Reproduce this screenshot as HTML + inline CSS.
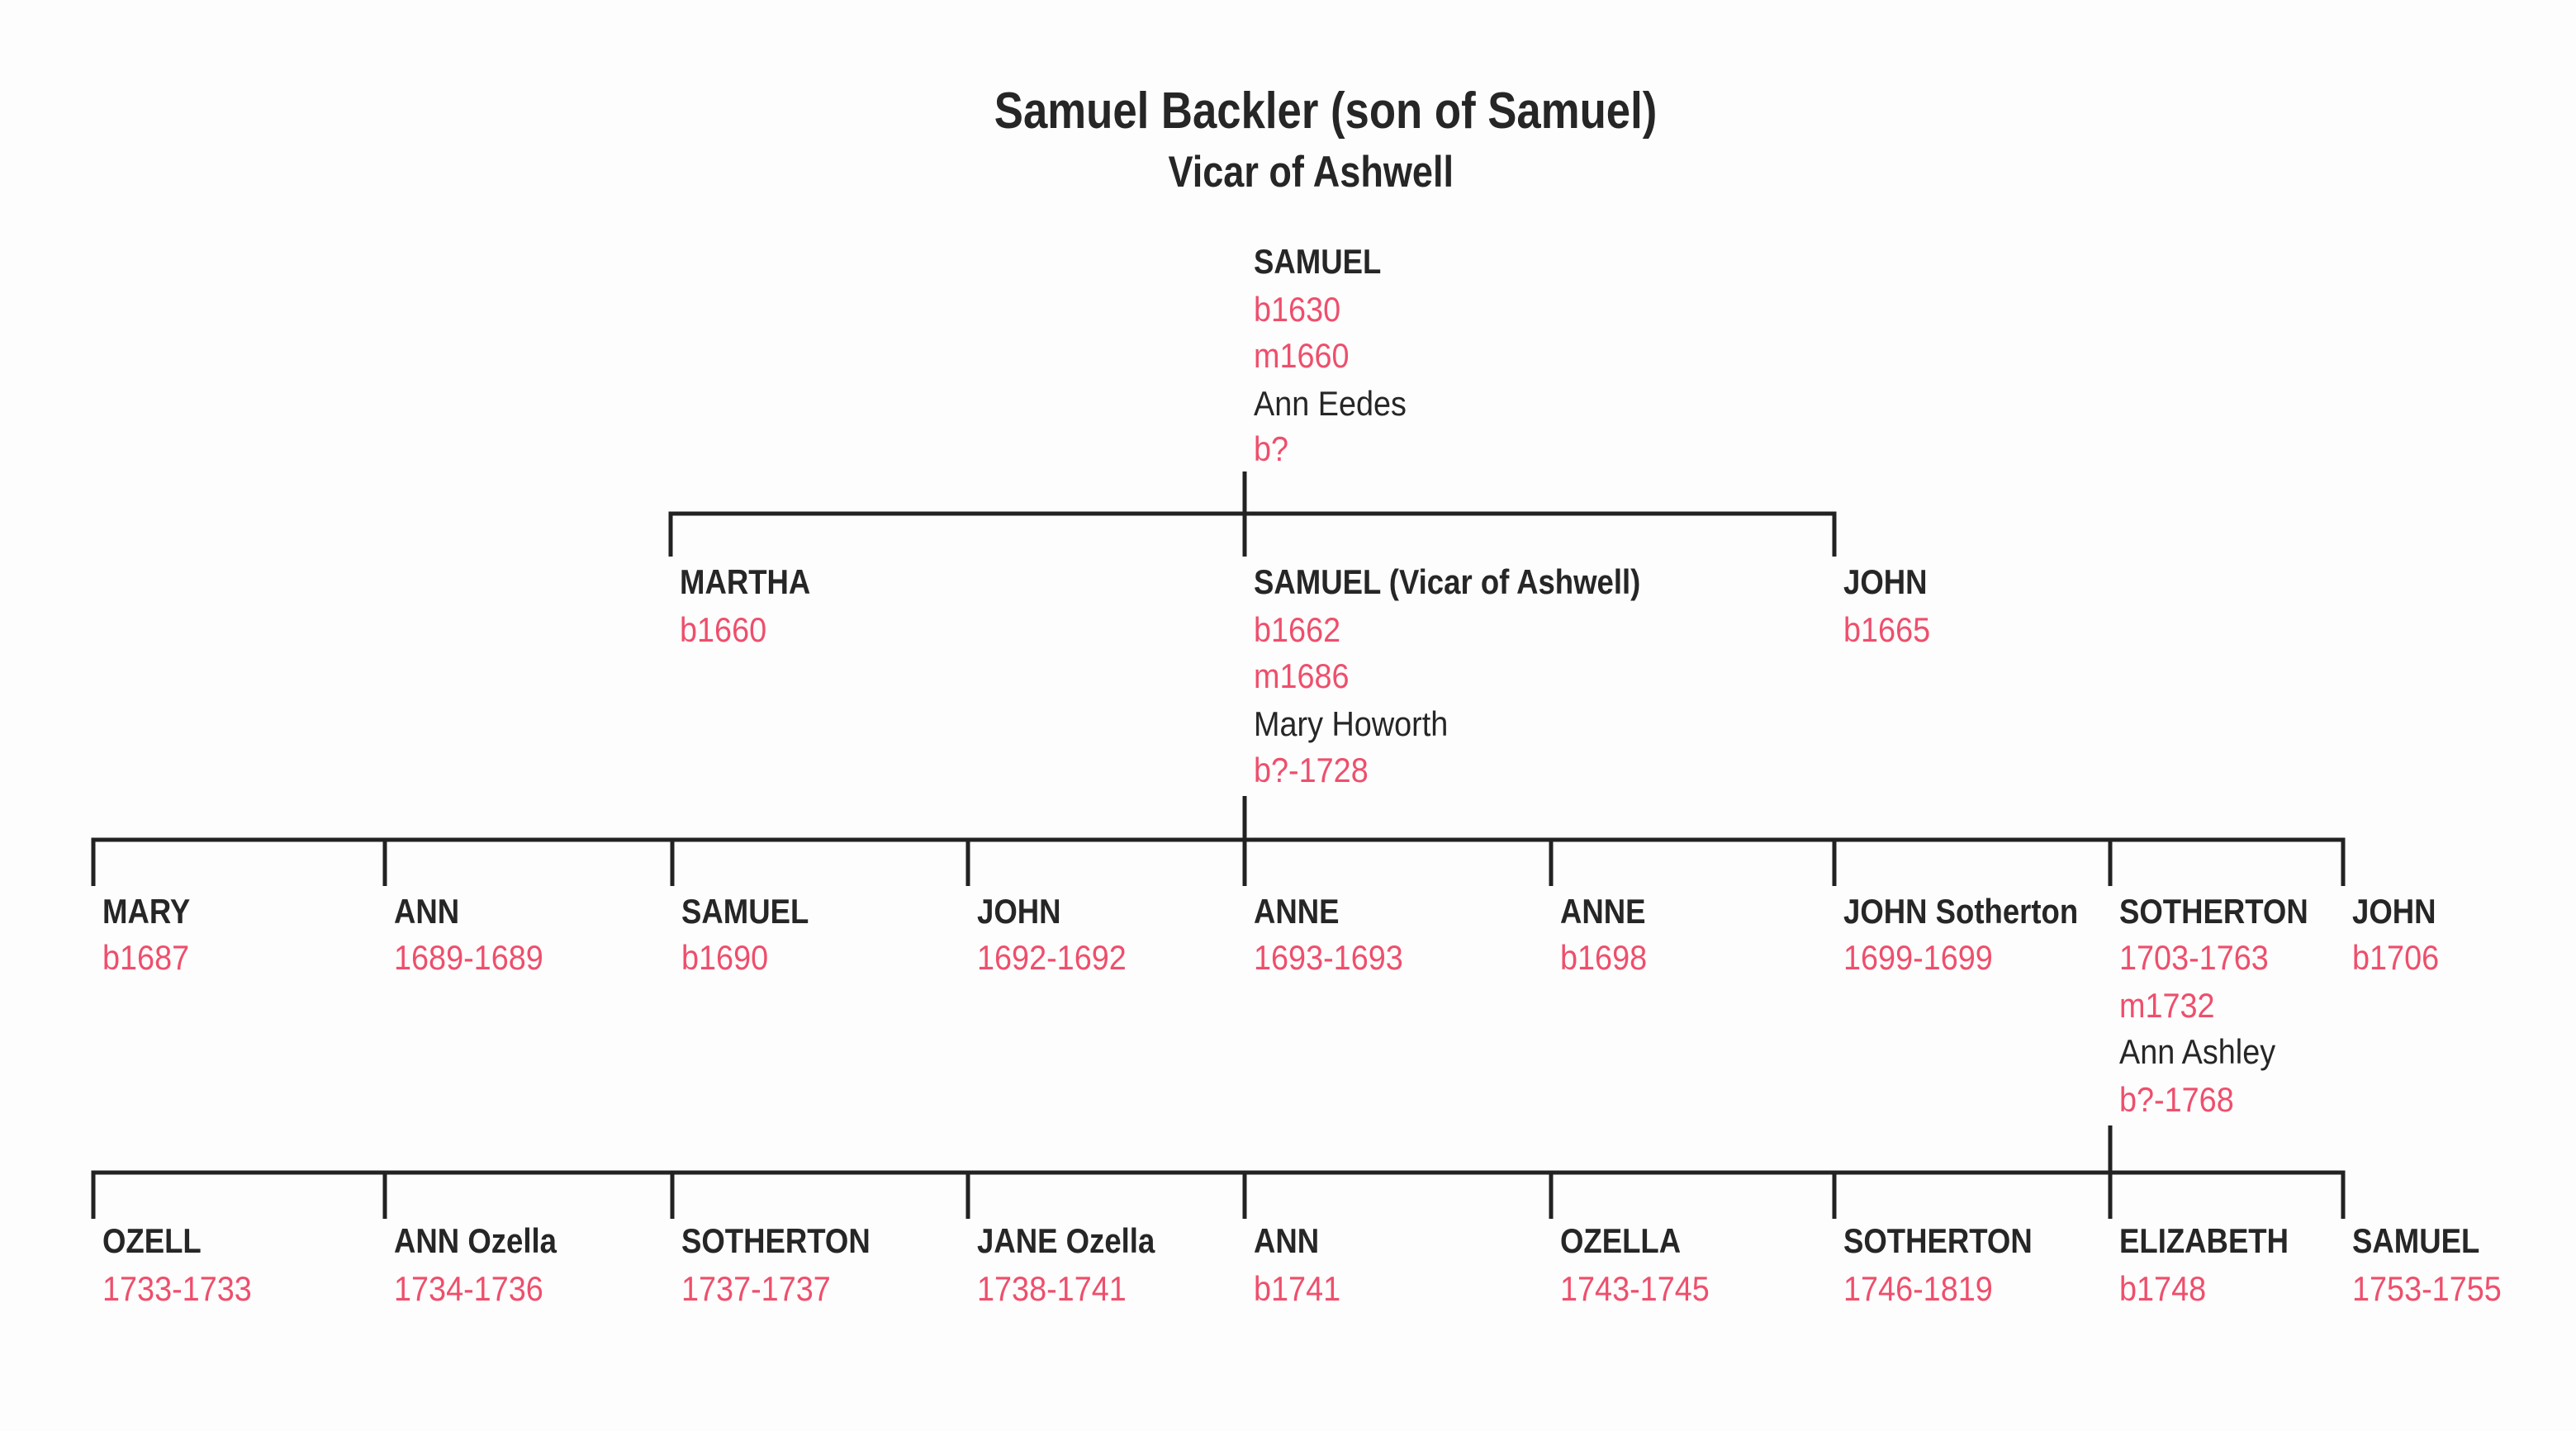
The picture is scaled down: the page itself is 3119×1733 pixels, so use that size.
<!DOCTYPE html>
<html><head><meta charset="utf-8"><style>
html,body{margin:0;padding:0;background:#fdfdfd;}
body{width:3119px;height:1733px;position:relative;overflow:hidden;font-family:"Liberation Sans",sans-serif;}
.t{position:absolute;font-size:42px;line-height:42px;white-space:nowrap;transform:scaleX(0.90);transform-origin:0 0;color:#262626;}
.b{font-weight:bold;transform:scaleX(0.87);}
.p{color:#ee4f6c;}
.h{position:absolute;left:0;width:3119px;text-align:center;font-weight:bold;color:#262626;white-space:nowrap;}
.h span{display:inline-block;transform:scaleX(0.85);}
</style></head><body>
<div class="h" style="top:104px;font-size:62px;line-height:62px;"><span style="margin-left:92px">Samuel Backler (son of Samuel)</span></div>
<div class="h" style="top:182px;font-size:53px;line-height:53px;"><span style="margin-left:56px">Vicar of Ashwell</span></div>

<svg style="position:absolute;left:0;top:0" width="3119" height="1733">
<g stroke="#222" stroke-width="5" fill="none">
<line x1="1507" y1="571" x2="1507" y2="674"/>
<polyline points="812,674 812,622 2221,622 2221,674"/>
<line x1="1507" y1="964" x2="1507" y2="1073"/>
<polyline points="113,1073 113,1017 2837,1017 2837,1073"/>
<line x1="466" y1="1017" x2="466" y2="1073"/>
<line x1="814" y1="1017" x2="814" y2="1073"/>
<line x1="1172" y1="1017" x2="1172" y2="1073"/>
<line x1="1878" y1="1017" x2="1878" y2="1073"/>
<line x1="2221" y1="1017" x2="2221" y2="1073"/>
<line x1="2555" y1="1017" x2="2555" y2="1073"/>
<line x1="2555" y1="1363" x2="2555" y2="1476"/>
<polyline points="113,1476 113,1420 2837,1420 2837,1476"/>
<line x1="466" y1="1420" x2="466" y2="1476"/>
<line x1="814" y1="1420" x2="814" y2="1476"/>
<line x1="1172" y1="1420" x2="1172" y2="1476"/>
<line x1="1507" y1="1420" x2="1507" y2="1476"/>
<line x1="1878" y1="1420" x2="1878" y2="1476"/>
<line x1="2221" y1="1420" x2="2221" y2="1476"/>
</g></svg>

<!-- Row 1 -->
<div class="t b" style="left:1518px;top:296px">SAMUEL</div>
<div class="t p" style="left:1518px;top:354px">b1630</div>
<div class="t p" style="left:1518px;top:410px">m1660</div>
<div class="t" style="left:1518px;top:468px">Ann Eedes</div>
<div class="t p" style="left:1518px;top:523px">b?</div>

<!-- Row 2 -->
<div class="t b" style="left:823px;top:684px">MARTHA</div>
<div class="t p" style="left:823px;top:742px">b1660</div>
<div class="t b" style="left:1518px;top:684px">SAMUEL (Vicar of Ashwell)</div>
<div class="t p" style="left:1518px;top:742px">b1662</div>
<div class="t p" style="left:1518px;top:798px">m1686</div>
<div class="t" style="left:1518px;top:856px">Mary Howorth</div>
<div class="t p" style="left:1518px;top:912px">b?-1728</div>
<div class="t b" style="left:2232px;top:684px">JOHN</div>
<div class="t p" style="left:2232px;top:742px">b1665</div>

<!-- Row 3 -->
<div class="t b" style="left:124px;top:1083px">MARY</div>
<div class="t p" style="left:124px;top:1139px">b1687</div>
<div class="t b" style="left:477px;top:1083px">ANN</div>
<div class="t p" style="left:477px;top:1139px">1689-1689</div>
<div class="t b" style="left:825px;top:1083px">SAMUEL</div>
<div class="t p" style="left:825px;top:1139px">b1690</div>
<div class="t b" style="left:1183px;top:1083px">JOHN</div>
<div class="t p" style="left:1183px;top:1139px">1692-1692</div>
<div class="t b" style="left:1518px;top:1083px">ANNE</div>
<div class="t p" style="left:1518px;top:1139px">1693-1693</div>
<div class="t b" style="left:1889px;top:1083px">ANNE</div>
<div class="t p" style="left:1889px;top:1139px">b1698</div>
<div class="t b" style="left:2232px;top:1083px">JOHN Sotherton</div>
<div class="t p" style="left:2232px;top:1139px">1699-1699</div>
<div class="t b" style="left:2566px;top:1083px">SOTHERTON</div>
<div class="t p" style="left:2566px;top:1139px">1703-1763</div>
<div class="t p" style="left:2566px;top:1197px">m1732</div>
<div class="t" style="left:2566px;top:1253px">Ann Ashley</div>
<div class="t p" style="left:2566px;top:1311px">b?-1768</div>
<div class="t b" style="left:2848px;top:1083px">JOHN</div>
<div class="t p" style="left:2848px;top:1139px">b1706</div>

<!-- Row 4 -->
<div class="t b" style="left:124px;top:1482px">OZELL</div>
<div class="t p" style="left:124px;top:1540px">1733-1733</div>
<div class="t b" style="left:477px;top:1482px">ANN Ozella</div>
<div class="t p" style="left:477px;top:1540px">1734-1736</div>
<div class="t b" style="left:825px;top:1482px">SOTHERTON</div>
<div class="t p" style="left:825px;top:1540px">1737-1737</div>
<div class="t b" style="left:1183px;top:1482px">JANE Ozella</div>
<div class="t p" style="left:1183px;top:1540px">1738-1741</div>
<div class="t b" style="left:1518px;top:1482px">ANN</div>
<div class="t p" style="left:1518px;top:1540px">b1741</div>
<div class="t b" style="left:1889px;top:1482px">OZELLA</div>
<div class="t p" style="left:1889px;top:1540px">1743-1745</div>
<div class="t b" style="left:2232px;top:1482px">SOTHERTON</div>
<div class="t p" style="left:2232px;top:1540px">1746-1819</div>
<div class="t b" style="left:2566px;top:1482px">ELIZABETH</div>
<div class="t p" style="left:2566px;top:1540px">b1748</div>
<div class="t b" style="left:2848px;top:1482px">SAMUEL</div>
<div class="t p" style="left:2848px;top:1540px">1753-1755</div>
</body></html>
